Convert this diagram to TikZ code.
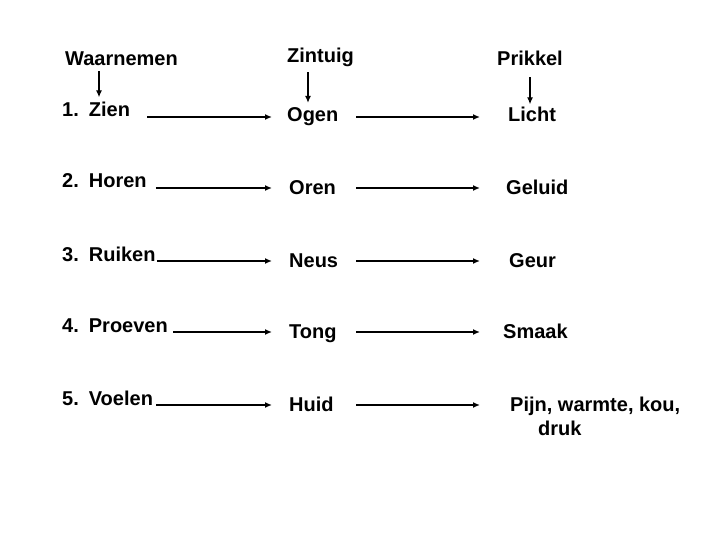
\documentclass[tikz,border=0pt]{standalone}
\usepackage{fontspec}
\setmainfont{Liberation Sans}
\usepackage{tikz}
\usetikzlibrary{arrows.meta}

\begin{document}
\begin{tikzpicture}[x=1pt, y=-1pt,
    word/.style={anchor=base west, inner sep=0pt, font=\fontsize{20}{24}\selectfont\bfseries},
    arr/.style={line width=1.4pt, -{Latex[length=7pt,width=6pt]}},
    downarr/.style={line width=1.2pt, -{Latex[length=7pt,width=6pt]}, shorten <=5pt, shorten >=5pt}]
  \useasboundingbox (0,0) rectangle (720,540);
  % Headers
  \node[word] (waar) at (65,66) {Waarnemen};
  \node[word] (zint) at (287,63) {Zintuig};
  \node[word] (prik) at (497,66) {Prikkel};
  % Column 1: senses
  \node[word] (zien) at (62,117) {1.\hspace{0.5em}Zien};
  \node[word] (horen) at (62,188) {2.\hspace{0.5em}Horen};
  \node[word] (ruiken) at (62,261) {3.\hspace{0.5em}Ruiken};
  \node[word] (proeven) at (62,332) {4.\hspace{0.5em}Proeven};
  \node[word] (voelen) at (62,405) {5.\hspace{0.5em}Voelen};
  % Column 2: organs
  \node[word] (ogen) at (287,122) {Ogen};
  \node[word] (oren) at (289,195) {Oren};
  \node[word] (neus) at (289,267) {Neus};
  \node[word] (tong) at (289,338) {Tong};
  \node[word] (huid) at (289,411) {Huid};
  % Column 3: stimuli
  \node[word] (licht) at (508,122) {Licht};
  \node[word] (geluid) at (506,195) {Geluid};
  \node[word] (geur) at (509,267) {Geur};
  \node[word] (smaak) at (503,338) {Smaak};
  \node[word, anchor=north west, align=left] (pijn) at (510,397)
    {Pijn, warmte, kou,\\\hspace*{28pt}druk};
  % Column guides for the arrows
  \coordinate (cw) at (99,0);
  \coordinate (cz) at (308,0);
  \coordinate (cp) at (530,0);
  \coordinate (mid) at (356,0);
  % Header arrows
  \draw[downarr] (waar.south -| cw) -- (zien.north -| cw);
  \draw[downarr] (zint.south -| cz) -- (ogen.north -| cz);
  \draw[downarr, shorten <=11pt, shorten >=3pt] (prik.south -| cp) -- (licht.north -| cp);
  % Sense to organ
  \draw[arr, shorten >=15pt] ([xshift=17pt]zien.base east) -- (zien.base -| ogen.west);
  \draw[arr, shorten >=17pt] ([xshift=9pt]horen.base east) -- (horen.base -| oren.west);
  \draw[arr, shorten >=17pt] ([xshift=1pt]ruiken.base east) -- (ruiken.base -| neus.west);
  \draw[arr, shorten >=17pt] ([xshift=5pt]proeven.base east) -- (proeven.base -| tong.west);
  \draw[arr, shorten >=17pt] ([xshift=3pt]voelen.base east) -- (voelen.base -| huid.west);
  % Organ to stimulus
  \draw[arr, shorten >=28pt] (zien.base -| mid) -- (zien.base -| licht.west);
  \draw[arr, shorten >=26pt] (horen.base -| mid) -- (horen.base -| geluid.west);
  \draw[arr, shorten >=29pt] (ruiken.base -| mid) -- (ruiken.base -| geur.west);
  \draw[arr, shorten >=23pt] (proeven.base -| mid) -- (proeven.base -| smaak.west);
  \draw[arr, shorten >=30pt] (voelen.base -| mid) -- (voelen.base -| pijn.west);
\end{tikzpicture}
\end{document}
